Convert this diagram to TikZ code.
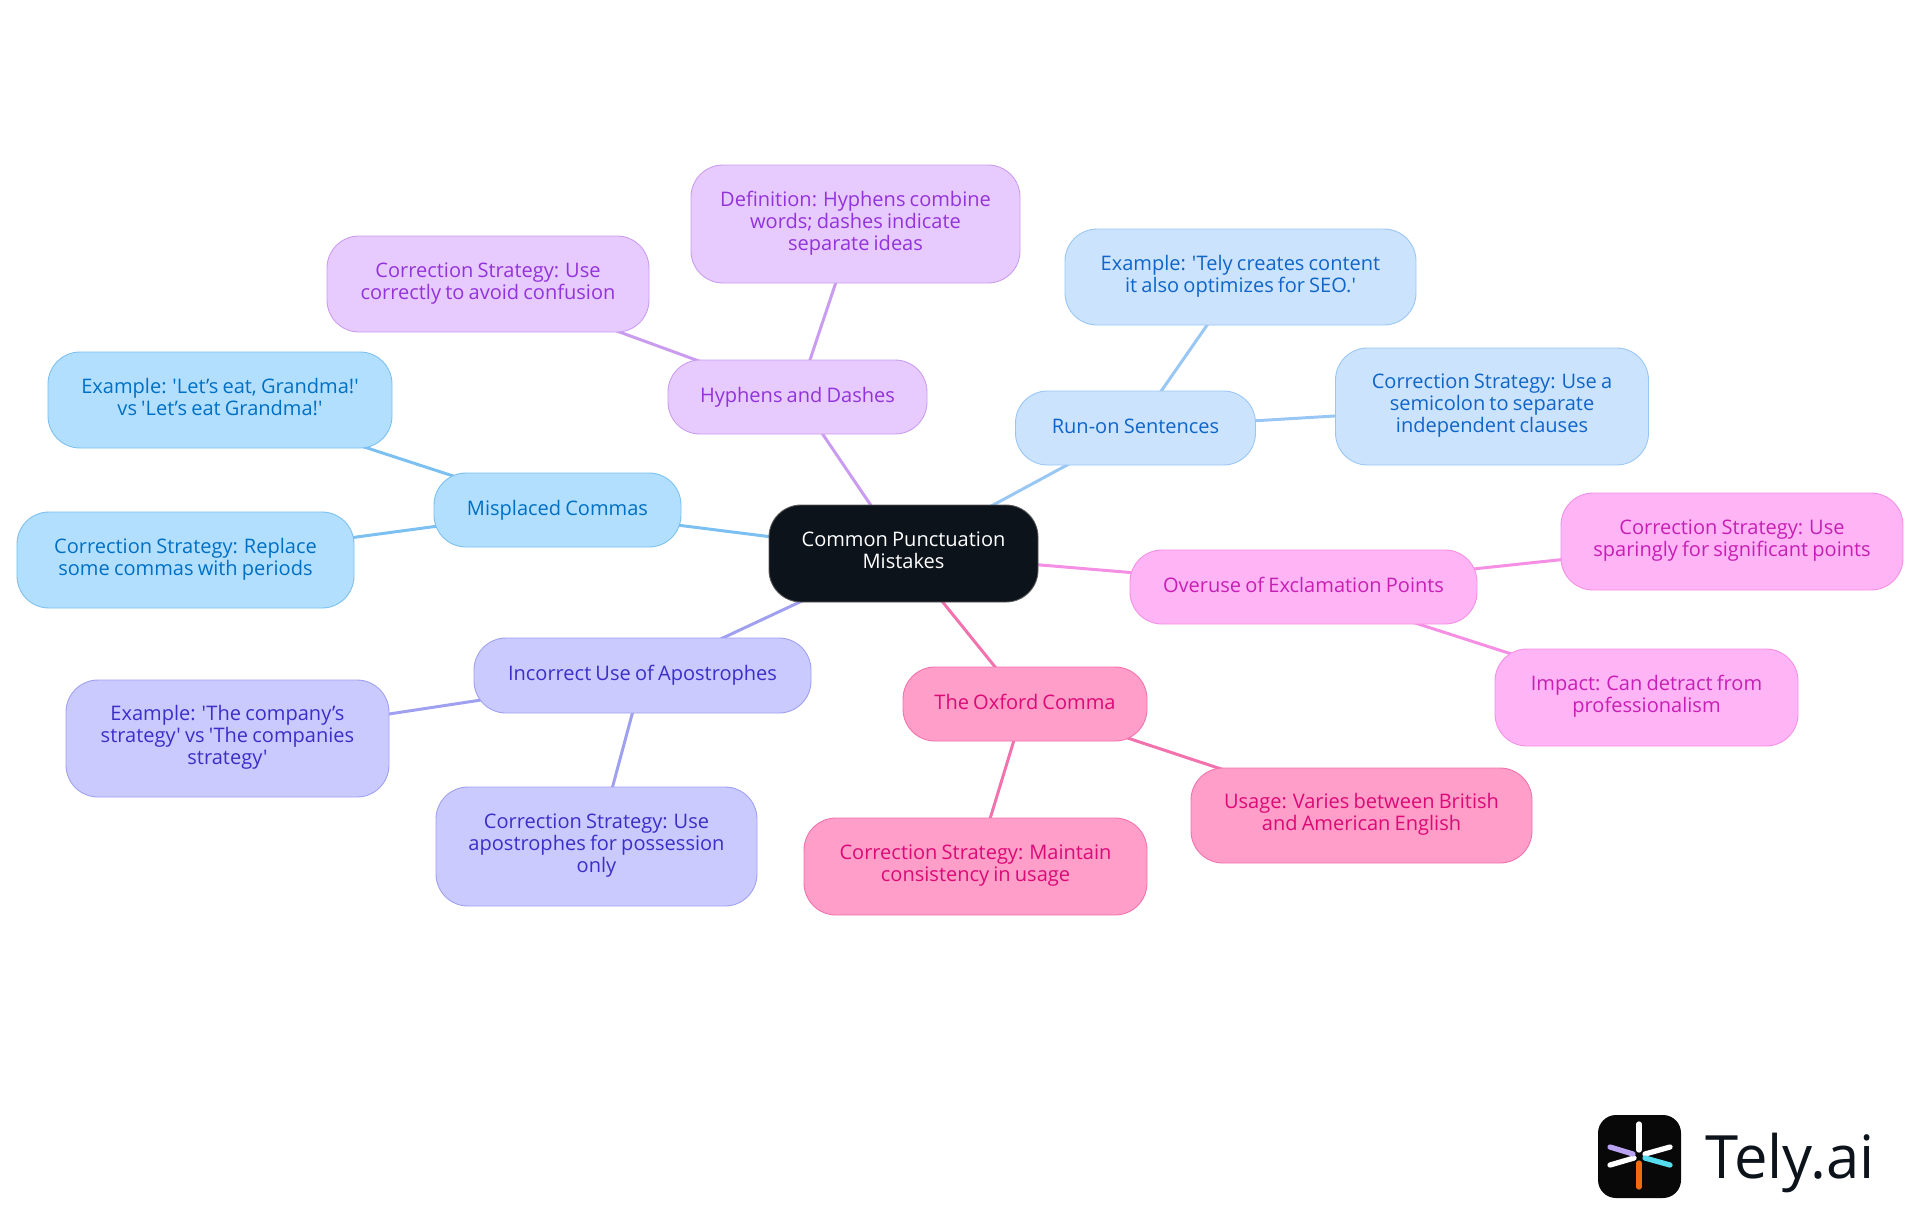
\documentclass[tikz,border=0pt]{standalone}
\usepackage{fontspec}
\usepackage{xcolor}
\usetikzlibrary{positioning, backgrounds}
\newfontfamily\mapfont[WordSpace=0.8]{Open Sans}
\definecolor{rootfill}{HTML}{0C131B}
\definecolor{commafill}{HTML}{B3DFFF}
\definecolor{commaline}{HTML}{7BC0F0}
\definecolor{commatext}{HTML}{0070C4}
\definecolor{dashfill}{HTML}{E7CBFE}
\definecolor{dashline}{HTML}{CA9CF0}
\definecolor{dashtext}{HTML}{9333DB}
\definecolor{runfill}{HTML}{CCE3FD}
\definecolor{runline}{HTML}{99C7F5}
\definecolor{runtext}{HTML}{0F66C8}
\definecolor{bangfill}{HTML}{FFB5F5}
\definecolor{bangline}{HTML}{F48FE5}
\definecolor{bangtext}{HTML}{C71FB5}
\definecolor{oxffill}{HTML}{FF9EC8}
\definecolor{oxfline}{HTML}{F272AD}
\definecolor{oxftext}{HTML}{DB0A77}
\definecolor{aposfill}{HTML}{CACAFF}
\definecolor{aposline}{HTML}{A0A0F0}
\definecolor{apostext}{HTML}{3B2FC8}
\definecolor{spokeviolet}{HTML}{B9A2F0}
\definecolor{spokecyan}{HTML}{55DCEF}
\definecolor{spokeorange}{HTML}{F26A0F}

\begin{document}
\begin{tikzpicture}[
    bubble/.style={rectangle, draw, rounded corners=0.64cm, inner sep=0pt,
      outer sep=0pt, line width=0.5pt, align=center,
      font=\mapfont\fontsize{11.4}{12.5}\selectfont,
      execute at begin node=\rule{0pt}{9.7pt}, execute at end node=\strut},
    rootbox/.style={bubble, fill=rootfill, draw=gray!70!black, text=white},
    commabox/.style={bubble, fill=commafill, draw=commaline, text=commatext},
    dashbox/.style={bubble, fill=dashfill, draw=dashline, text=dashtext},
    runbox/.style={bubble, fill=runfill, draw=runline, text=runtext},
    bangbox/.style={bubble, fill=bangfill, draw=bangline, text=bangtext},
    oxfbox/.style={bubble, fill=oxffill, draw=oxfline, text=oxftext},
    aposbox/.style={bubble, fill=aposfill, draw=aposline, text=apostext},
    link/.style={line width=1.7pt},
    spoke/.style={line width=3pt, line cap=round},
]
\useasboundingbox (0,0) rectangle (38.4,-24.3);

% -- Centre --
\node[rootbox, minimum width=5.38cm, minimum height=1.94cm] (root)
  at (18.07,-11.07) {Common Punctuation\\Mistakes};

% -- Branches --
\node[dashbox, minimum width=5.18cm, minimum height=1.48cm,
  above=1.42cm of root, xshift=-2.12cm] (hyphens) {Hyphens and Dashes};
\node[runbox, minimum width=4.80cm, minimum height=1.48cm,
  above=0.80cm of root, xshift=4.64cm] (runon) {Run-on Sentences};
\node[commabox, minimum width=4.94cm, minimum height=1.48cm,
  left=1.76cm of root, yshift=0.87cm] (commas) {Misplaced Commas};
\node[bangbox, minimum width=6.94cm, minimum height=1.48cm,
  right=1.84cm of root, yshift=-0.67cm] (overuse) {Overuse of Exclamation Points};
\node[oxfbox, minimum width=4.88cm, minimum height=1.48cm,
  below=1.30cm of root, xshift=2.43cm] (oxford) {The Oxford Comma};
\node[aposbox, minimum width=6.74cm, minimum height=1.50cm,
  below=0.72cm of root, xshift=-5.22cm] (apos) {Incorrect Use of Apostrophes};

% -- Leaves --
\node[dashbox, minimum width=6.58cm, minimum height=2.36cm,
  above=1.54cm of hyphens, xshift=1.16cm] (hyphensdef)
  {Definition: Hyphens combine\\words; dashes indicate\\separate ideas};
\node[dashbox, minimum width=6.44cm, minimum height=1.92cm,
  above=0.56cm of hyphens, xshift=-6.19cm] (hyphensfix)
  {Correction Strategy: Use\\correctly to avoid confusion};
\node[runbox, minimum width=7.02cm, minimum height=1.92cm,
  above=1.32cm of runon, xshift=2.10cm] (runonex)
  {Example: 'Tely creates content\\it also optimizes for SEO.'};
\node[runbox, minimum width=6.26cm, minimum height=2.34cm,
  right=1.60cm of runon, yshift=0.43cm] (runonfix)
  {Correction Strategy: Use a\\semicolon to separate\\independent clauses};
\node[commabox, minimum width=6.88cm, minimum height=1.92cm,
  left=0.84cm of commas, yshift=2.20cm] (commasex)
  {Example: 'Let’s eat, Grandma!'\\vs 'Let’s eat Grandma!'};
\node[commabox, minimum width=6.74cm, minimum height=1.92cm,
  left=1.60cm of commas, yshift=-1.00cm] (commasfix)
  {Correction Strategy: Replace\\some commas with periods};
\node[bangbox, minimum width=6.84cm, minimum height=1.94cm,
  right=1.68cm of overuse, yshift=0.91cm] (overusefix)
  {Correction Strategy: Use\\sparingly for significant points};
\node[bangbox, minimum width=6.06cm, minimum height=1.94cm,
  below=0.50cm of overuse, xshift=6.86cm] (overuseimp)
  {Impact: Can detract from\\professionalism};
\node[oxfbox, minimum width=6.82cm, minimum height=1.90cm,
  below=0.54cm of oxford, xshift=6.73cm] (oxforduse)
  {Usage: Varies between British\\and American English};
\node[oxfbox, minimum width=6.86cm, minimum height=1.94cm,
  below=1.54cm of oxford, xshift=-0.99cm] (oxfordfix)
  {Correction Strategy: Maintain\\consistency in usage};
\node[aposbox, minimum width=6.46cm, minimum height=2.34cm,
  left=1.70cm of apos, yshift=-1.26cm] (aposex)
  {Example: 'The company’s\\strategy' vs 'The companies\\strategy'};
\node[aposbox, minimum width=6.42cm, minimum height=2.38cm,
  below=1.48cm of apos, xshift=-0.92cm] (aposfix)
  {Correction Strategy: Use\\apostrophes for possession\\only};

% -- Links --
\begin{scope}[on background layer]
  \draw[link, dashline] (root.center) -- (hyphens.center);
  \draw[link, dashline] (hyphens.center) -- (hyphensdef.center);
  \draw[link, dashline] (hyphens.center) -- (hyphensfix.center);
  \draw[link, runline] (root.center) -- (runon.center);
  \draw[link, runline] (runon.center) -- (runonex.center);
  \draw[link, runline] (runon.center) -- (runonfix.center);
  \draw[link, commaline] (root.center) -- (commas.center);
  \draw[link, commaline] (commas.center) -- (commasex.center);
  \draw[link, commaline] (commas.center) -- (commasfix.center);
  \draw[link, bangline] (root.center) -- (overuse.center);
  \draw[link, bangline] (overuse.center) -- (overusefix.center);
  \draw[link, bangline] (overuse.center) -- (overuseimp.center);
  \draw[link, oxfline] (root.center) -- (oxford.center);
  \draw[link, oxfline] (oxford.center) -- (oxforduse.center);
  \draw[link, oxfline] (oxford.center) -- (oxfordfix.center);
  \draw[link, aposline] (root.center) -- (apos.center);
  \draw[link, aposline] (apos.center) -- (aposex.center);
  \draw[link, aposline] (apos.center) -- (aposfix.center);
\end{scope}

% -- Logo --
\fill[black!97, rounded corners=0.36cm] (31.96,-22.30) rectangle (33.62,-23.96);
\draw[spoke, white] (32.78,-23.00) -- (32.78,-22.48);
\draw[spoke, white] (32.68,-23.16) -- (32.20,-23.30);
\draw[spoke, white] (32.90,-23.08) -- (33.40,-22.94);
\draw[spoke, spokeorange] (32.78,-23.26) -- (32.78,-23.74);
\draw[spoke, spokeviolet] (32.66,-23.08) -- (32.20,-22.94);
\draw[spoke, spokecyan] (32.90,-23.16) -- (33.40,-23.30);
\node[anchor=base west, inner sep=0pt, text=rootfill,
  font=\mapfont\fontsize{34}{34}\selectfont] (brand) at (34.10,-23.56) {Tely.ai};
\end{tikzpicture}
\end{document}
